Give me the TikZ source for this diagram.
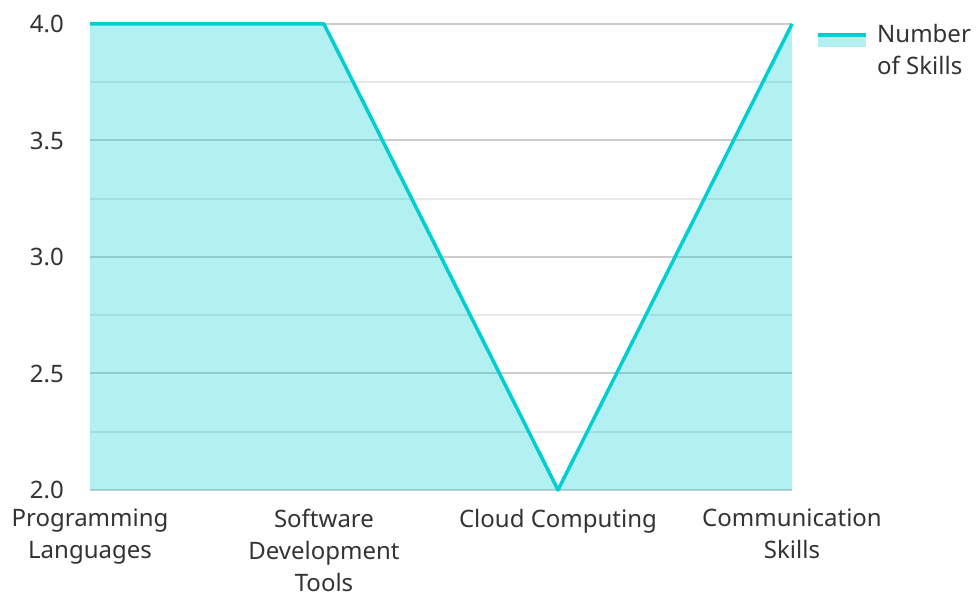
\documentclass[tikz,border=0pt]{standalone}
\usepackage{fontspec}
\setmainfont{Noto Sans}
\usetikzlibrary{positioning}
\definecolor{cline}{HTML}{00CED1}
\definecolor{cmajor}{HTML}{CCCCCC}
\definecolor{cminor}{HTML}{E8E8E8}
\definecolor{ctext}{HTML}{333333}
\tikzset{
  every picture/.style={font=\fontsize{24}{32}\selectfont, text=ctext},
  majorgrid/.style={cmajor, line width=2pt},
  minorgrid/.style={cminor, line width=2pt},
  area/.style={fill=cline, fill opacity=0.3},
  series/.style={cline, line width=3.5pt, line join=round},
  ytick/.style={anchor=east, inner sep=0pt},
  xtick/.style={anchor=north, align=center, inner sep=0pt},
}

\begin{document}
\begin{tikzpicture}[x=234pt,y=233pt]
  \useasboundingbox (-90pt,-104pt) rectangle (886pt,490pt);
  % gridlines, one unit = 1 skill above 2.0
  \foreach \v in {0.25,0.75,1.25,1.75}
    \draw[minorgrid] (0,\v) -- (3,\v);
  \foreach \v in {0,0.5,1,1.5,2}
    \draw[majorgrid] (0,\v) -- (3,\v);
  % data
  \foreach \i/\v in {0/4,1/4,2/2,3/4}
    \coordinate (p\i) at (\i,{\v-2});
  \fill[area] (p0) -- (p1) -- (p2) -- (p3) |- (0,0) -- cycle;
  \draw[series] (p0) -- (p1) -- (p2) -- (p3);
  % axis labels
  \foreach \v [count=\k] in {2.0,2.5,3.0,3.5,4.0}
    \node[ytick] (ylab\k) at ([xshift=-26pt]0,{\v-2}) {\v};
  \foreach \lab [count=\k from 0] in {{Programming\\Languages},{Software\\Development\\Tools},{Cloud Computing},{Communication\\Skills}}
    \node[xtick] (xlab\k) at ([yshift=-19pt]\k,0) {\lab};
  % legend
  \fill[area] (728pt,443pt) rectangle (776pt,454pt);
  \draw[series] (728pt,455pt) -- (776pt,455pt);
  \node[anchor=base west, align=left, inner sep=0pt] (key) at (787pt,415pt) {Number\\of Skills};
\end{tikzpicture}
\end{document}
